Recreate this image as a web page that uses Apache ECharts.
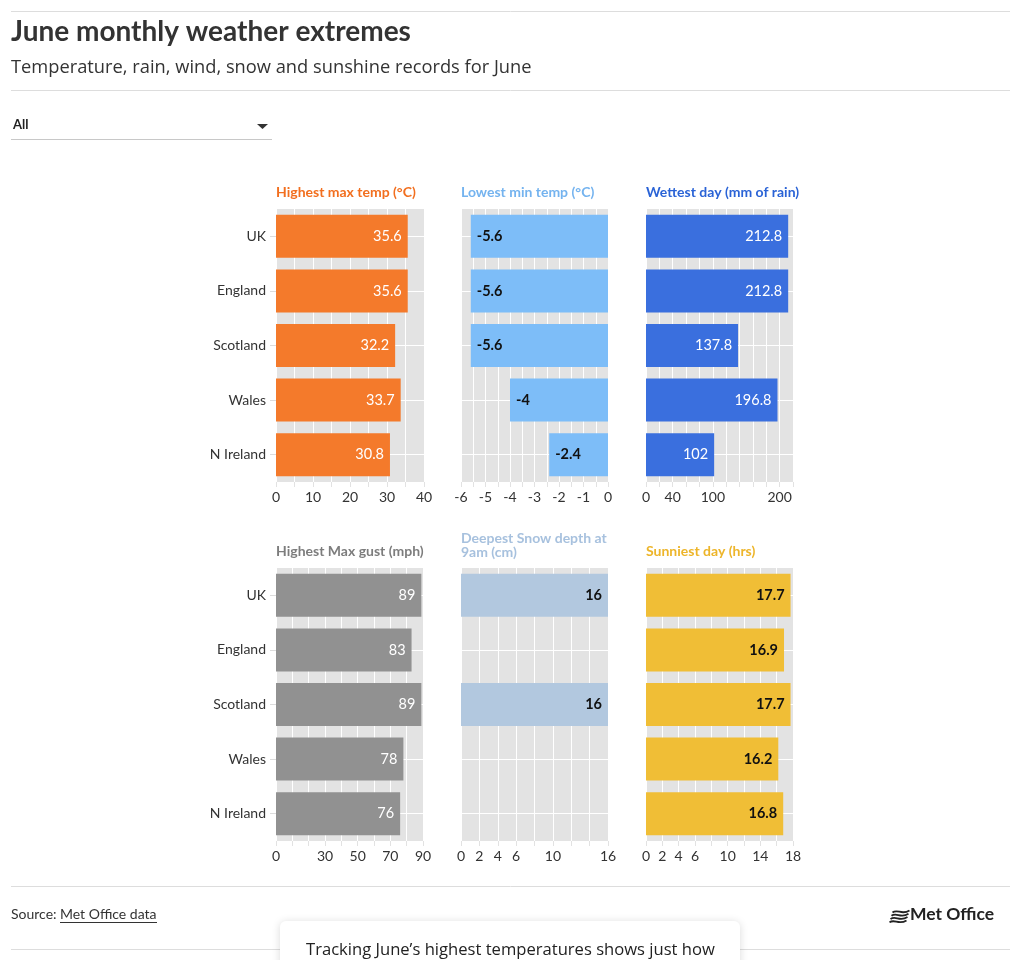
<!DOCTYPE html>
<html>
<head>
<meta charset="utf-8">
<script src="https://cdn.jsdelivr.net/npm/echarts@6/dist/echarts.min.js"></script>
<style>
html,body{margin:0;padding:0;background:#fff;}
#chart{width:1020px;height:960px;}
</style>
</head>
<body>
<div id="chart"></div>
<script>
// ---- data ----
const categories = ['UK', 'England', 'Scotland', 'Wales', 'N Ireland'];
const maxTemp = [35.6, 35.6, 32.2, 33.7, 30.8];
const minTemp = [-5.6, -5.6, -5.6, -4, -2.4];
const wettestDay = [212.8, 212.8, 137.8, 196.8, 102];
const maxGust = [89, 83, 89, 78, 76];
const snowDepth = [16, null, 16, null, null];
const sunniestDay = [17.7, 16.9, 17.7, 16.2, 16.8];

const maxTempTicks = [0, 10, 20, 30, 40];
const minTempTicks = [-6, -5, -4, -3, -2, -1, 0];
const wettestTicks = [0, 40, 100, 200];
const gustTicks = [0, 30, 50, 70, 90];
const snowTicks = [0, 2, 4, 6, 10, 16];
const sunTicks = [0, 2, 4, 6, 10, 14, 18];

const panelTitles = ['Highest max temp (°C)', 'Lowest min temp (°C)', 'Wettest day (mm of rain)',
  'Highest Max gust (mph)', 'Deepest Snow depth at\n9am (cm)', 'Sunniest day (hrs)'];

// ---- layout / style ----
const FONT = 'Lato, "Open Sans", sans-serif';
const FONT2 = '"Open Sans", Lato, sans-serif';
const panels = [
  {data: maxTemp, ticks: maxTempTicks, min: 0, max: 40, step: 5, left: 276, width: 148, top: 209,
   bar: '#f47a2b', title: '#f26f1f', lab: '#fff', labW: 'normal', pos: 'insideRight'},
  {data: minTemp, ticks: minTempTicks, min: -6, max: 0, step: 0.5, left: 461, width: 147, top: 209,
   bar: '#7dbdf8', title: '#74b3ef', lab: '#111', labW: 'bold', pos: 'insideLeft'},
  {data: wettestDay, ticks: wettestTicks, min: 0, max: 220, step: 20, left: 646, width: 147, top: 209,
   bar: '#3a6fde', title: '#2a63d6', lab: '#fff', labW: 'normal', pos: 'insideRight'},
  {data: maxGust, ticks: gustTicks, min: 0, max: 90, step: 10, left: 276, width: 147, top: 568,
   bar: '#919191', title: '#7d7d7d', lab: '#fff', labW: 'normal', pos: 'insideRight'},
  {data: snowDepth, ticks: snowTicks, min: 0, max: 16, step: 2, left: 461, width: 147, top: 568,
   bar: '#b2c8df', title: '#a7c1de', lab: '#111', labW: 'bold', pos: 'insideRight'},
  {data: sunniestDay, ticks: sunTicks, min: 0, max: 18, step: 2, left: 646, width: 147, top: 568,
   bar: '#f0be36', title: '#edb52a', lab: '#111', labW: 'bold', pos: 'insideRight'}
];
const GRID_H = 273;

const grids = [], xAxes = [], yAxes = [], series = [];
panels.forEach((p, i) => {
  grids.push({left: p.left, top: p.top, width: p.width, height: GRID_H, show: true,
    backgroundColor: '#e3e3e3', borderWidth: 0, containLabel: false});
  xAxes.push({
    type: 'value', gridIndex: i, min: p.min, max: p.max, interval: p.step,
    axisLine: {show: false},
    axisTick: {show: true, length: 5, lineStyle: {color: '#e2e2e2'}},
    splitLine: {show: true, lineStyle: {color: '#ffffff', width: 1}},
    axisLabel: {
      show: true, color: '#333', fontSize: 14, fontFamily: FONT, margin: 8,
      formatter: function (v) {
        return p.ticks.some(t => Math.abs(t - v) < 1e-6) ? String(Math.round(v * 10) / 10) : '';
      }
    }
  });
  const first = (i % 3 === 0);
  yAxes.push({
    type: 'category', gridIndex: i, data: categories, inverse: true,
    axisLine: {show: false},
    axisTick: {show: first, alignWithLabel: true, length: 6, lineStyle: {color: '#dcdcdc'}},
    splitLine: {show: true, alignWithLabel: true, lineStyle: {color: '#ffffff', width: 1}},
    axisLabel: {show: first, color: '#333', fontSize: 14, fontFamily: FONT, margin: 10}
  });
  series.push({
    type: 'bar', xAxisIndex: i, yAxisIndex: i, data: p.data,
    barWidth: 43,
    itemStyle: {color: p.bar},
    label: {show: true, position: p.pos, distance: 6, color: p.lab, fontSize: 14.5,
      fontWeight: p.labW, fontFamily: FONT},
    silent: true, animation: false
  });
});

const logoLines = [0, 1, 2, 3].map(k => ({
  type: 'bezierCurve',
  shape: {x1: 3 - k * 1 + 0, y1: 3 + k * 3.3, cpx1: 8 - k, cpy1: -1 + k * 3.3, cpx2: 12 - k, cpy2: 6 + k * 3.3,
    x2: 20 - k, y2: 1 + k * 3.3},
  style: {stroke: '#222', lineWidth: 1.8, fill: null}
}));

const graphics = [
  {type: 'line', shape: {x1: 11, y1: 11.5, x2: 1010, y2: 11.5}, style: {stroke: '#dddddd', lineWidth: 1}},
  {type: 'line', shape: {x1: 11, y1: 90.5, x2: 1010, y2: 90.5}, style: {stroke: '#dddddd', lineWidth: 1}},
  {type: 'text', left: 11, top: 18, style: {text: 'June monthly weather extremes', fill: '#333',
    font: 'bold 28px ' + FONT}},
  {type: 'text', left: 11, top: 59, style: {text: 'Temperature, rain, wind, snow and sunshine records for June',
    fill: '#333', font: '18.3px ' + FONT2}},
  // dropdown
  {type: 'text', left: 13, top: 118, style: {text: 'All', fill: '#222', font: 'bold 13px ' + FONT}},
  {type: 'line', shape: {x1: 11, y1: 139.5, x2: 272, y2: 139.5}, style: {stroke: '#c8c8c8', lineWidth: 1}},
  {type: 'polygon', shape: {points: [[257, 124], [268, 124], [262.5, 129]]}, style: {fill: '#333'}},
  // footer
  {type: 'line', shape: {x1: 11, y1: 886.5, x2: 1010, y2: 886.5}, style: {stroke: '#dddddd', lineWidth: 1}},
  {type: 'line', shape: {x1: 11, y1: 949.5, x2: 1010, y2: 949.5}, style: {stroke: '#dddddd', lineWidth: 1}},
  {type: 'text', left: 11, top: 907, style: {text: 'Source:', fill: '#333', font: '14px ' + FONT}},
  {type: 'text', left: 60, top: 907, style: {text: 'Met Office data', fill: '#333', font: '14px ' + FONT}},
  {type: 'line', shape: {x1: 60, y1: 922.5, x2: 157, y2: 922.5}, style: {stroke: '#333', lineWidth: 1}},
  {type: 'text', left: 910, top: 905, style: {text: 'Met Office', fill: '#222', font: 'bold 17.5px ' + FONT}},
  {type: 'group', left: 887, top: 908, children: logoLines},
  // card
  {type: 'rect', shape: {x: 280, y: 921, width: 460, height: 60, r: 6},
    style: {fill: '#fff', shadowBlur: 8, shadowColor: 'rgba(0,0,0,0.15)', shadowOffsetY: 1}},
  {type: 'text', left: 306, top: 942, style: {text: 'Tracking June\u2019s highest temperatures shows just how',
    fill: '#222', font: '16.6px ' + FONT2}}
];
panels.forEach((p, i) => {
  const twoLine = panelTitles[i].indexOf('\n') >= 0;
  graphics.push({type: 'text', left: p.left, top: twoLine ? p.top - 37 : p.top - 24,
    style: {text: panelTitles[i], fill: p.title, font: 'bold 14px ' + FONT, lineHeight: 14}});
});

const chart = echarts.init(document.getElementById('chart'), null, {renderer: 'canvas'});
chart.setOption({
  animation: false,
  grid: grids, xAxis: xAxes, yAxis: yAxes, series: series,
  graphic: graphics
});
</script>
</body>
</html>
